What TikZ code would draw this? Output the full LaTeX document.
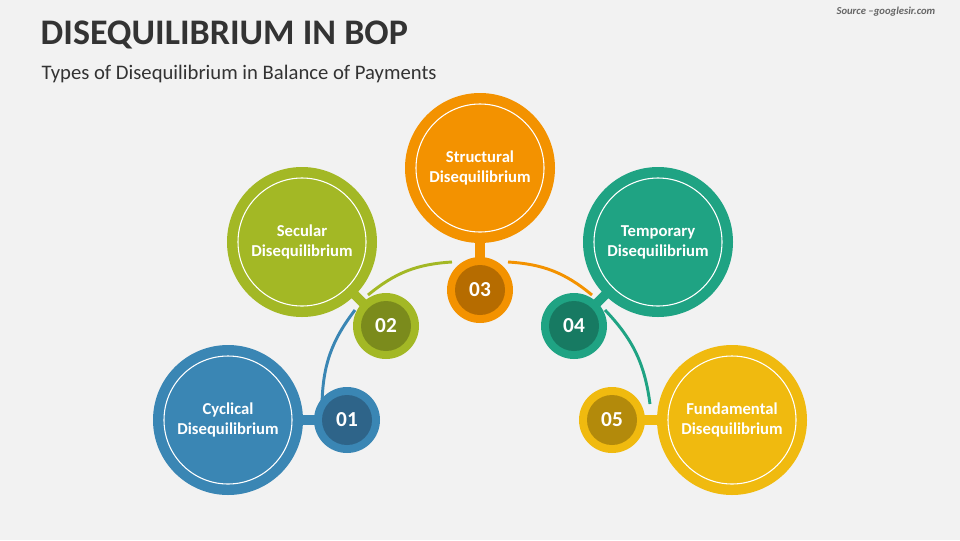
\documentclass[tikz,border=0pt]{standalone}
\usepackage{fontspec}
\setmainfont{Carlito}
\begin{document}
\begin{tikzpicture}[x=0.75pt,y=-0.75pt]
\definecolor{bg}{HTML}{F2F2F2}
\definecolor{cA}{HTML}{3A86B4}\definecolor{dA}{HTML}{2E6489}
\definecolor{cB}{HTML}{A3B825}\definecolor{dB}{HTML}{7B8B1C}
\definecolor{cC}{HTML}{F39200}\definecolor{dC}{HTML}{B66C00}
\definecolor{cD}{HTML}{1FA383}\definecolor{dD}{HTML}{177A62}
\definecolor{cE}{HTML}{F0BA0F}\definecolor{dE}{HTML}{B38A0B}
\tikzset{
 inner/.style={circle,minimum size=128*0.75pt,draw=white,line width=0.8pt,text=white,font=\bfseries\fontsize{12.5}{15}\selectfont,align=center},
 arcl/.style={line width=2.2pt,#1}
}
\fill[bg] (0,0) rectangle (960,540);
\node[anchor=west,font=\bfseries\fontsize{27}{30}\selectfont,text=black!80] (title) at (36,35) {DISEQUILIBRIUM IN BOP};
\node[anchor=west,font=\fontsize{15.5}{18}\selectfont,text=black!80] (sub) at (37,74) {Types of Disequilibrium in Balance of Payments};
\node[anchor=east,font=\bfseries\itshape\fontsize{8}{10}\selectfont,text=black!60] (src) at (940,12) {Source –googlesir.com};
\coordinate (a1) at (322,404);\coordinate (a2) at (355,310);
\coordinate (b1) at (368,295);\coordinate (b2) at (452,262);
\coordinate (c1) at (508,262);\coordinate (c2) at (592,295);
\coordinate (d1) at (605,310);\coordinate (d2) at (650,404);
\draw[arcl=cA] (a1) to[bend left=18] (a2);
\draw[arcl=cB] (b1) to[bend left=18] (b2);
\draw[arcl=cC] (c1) to[bend left=18] (c2);
\draw[arcl=cD] (d1) to[bend left=18] (d2);
\foreach \bx/\by/\sx/\sy/\c/\d/\t/\n in {
 228/420/347/420/cA/dA/{Cyclical\\Disequilibrium}/01,
 302/242/386/326/cB/dB/{Secular\\Disequilibrium}/02,
 480/168/480/290/cC/dC/{Structural\\Disequilibrium}/03,
 658/242/574/326/cD/dD/{Temporary\\Disequilibrium}/04,
 732/420/612/420/cE/dE/{Fundamental\\Disequilibrium}/05}{
 \draw[\c,line width=7pt] (\bx,\by) -- (\sx,\sy);
 \fill[\c] (\bx,\by) circle[radius=75];
 \fill[\c] (\sx,\sy) circle[radius=33];
 \fill[\d] (\sx,\sy) circle[radius=25];
 \node[inner] at (\bx,\by) {\t};
 \node[text=white,font=\bfseries\fontsize{16}{18}\selectfont] at (\sx,\sy) {\n};
}
\end{tikzpicture}
\end{document}
